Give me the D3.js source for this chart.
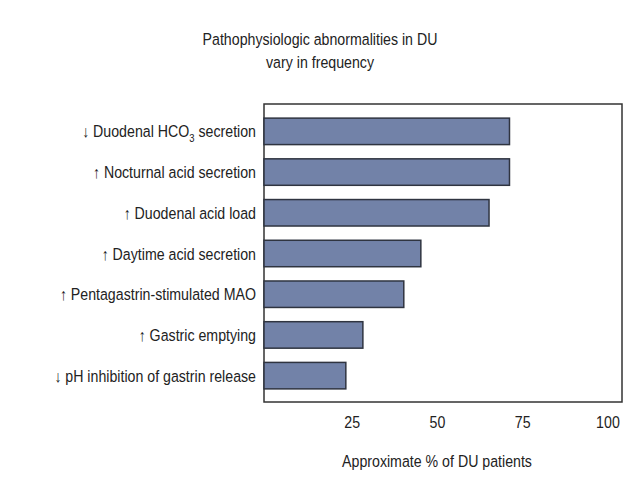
<!DOCTYPE html>
<html><head><meta charset="utf-8">
<script src="https://cdn.jsdelivr.net/npm/d3@7"></script>
<style>
body{margin:0;background:#fff}
text{font-family:"Liberation Sans",Arial,sans-serif;fill:#222}
</style></head><body>
<div id="chart"></div>
<script>
const arrows = ["↓", "↑", "↑", "↑", "↑", "↑", "↓"];
const labels = ["Duodenal HCO|3| secretion", "Nocturnal acid secretion", "Duodenal acid load",
  "Daytime acid secretion", "Pentagastrin-stimulated MAO", "Gastric emptying", "pH inhibition of gastrin release"];
const values = [72, 72, 66, 46, 41, 29, 24];
const ticks = [0, 25, 50, 75, 100];

const width = 638, height = 478;
const svg = d3.select("#chart").append("svg").attr("width", width).attr("height", height);

const x = d3.scaleLinear().domain([0, 105]).range([264, 622]);
const y = d3.scaleBand().domain(d3.range(labels.length)).range([111, 396])
	.paddingInner(0.35).paddingOuter(0.175);

// condensed look: squeeze text horizontally
function squeezed(px, py, size, anchor, str) {
	return svg.append("text").attr("transform", `translate(${px},${py}) scale(0.86,1)`)
		.attr("text-anchor", anchor).attr("font-size", size).text(str || null);
}

squeezed(320, 45, 16.5, "middle", "Pathophysiologic abnormalities in DU");
squeezed(320, 68, 16.5, "middle", "vary in frequency");

// frame
svg.append("rect").attr("x", x(0)).attr("y", 104).attr("width", x(105) - x(0)).attr("height", 402 - 104)
	.attr("fill", "none").attr("stroke", "#333").attr("stroke-width", 1.5);

svg.selectAll(".bar").data(values).join("rect").attr("class", "bar")
	.attr("x", x(0)).attr("y", (d, i) => y(i))
	.attr("width", (d) => x(d) - x(0)).attr("height", y.bandwidth())
	.attr("fill", "#7282a8").attr("stroke", "#2f3440").attr("stroke-width", 1.5);

// category labels
labels.forEach((d, i) => {
	const t = squeezed(256, y(i) + y.bandwidth() / 2 + 6, 16.5, "end");
	t.append("tspan").text(arrows[i] + " ");
	d.split("|").forEach((part, k) => {
		const s = t.append("tspan").text(part);
		if (k === 1) s.attr("font-size", 11).attr("dy", 5);
		if (k === 2) s.attr("dy", -5);
	});
});

// x tick labels
ticks.forEach((d) => squeezed(x(d) + 3, 428, 16.5, "middle", d));

squeezed(437, 467, 16.5, "middle", "Approximate % of DU patients");
</script></body></html>
